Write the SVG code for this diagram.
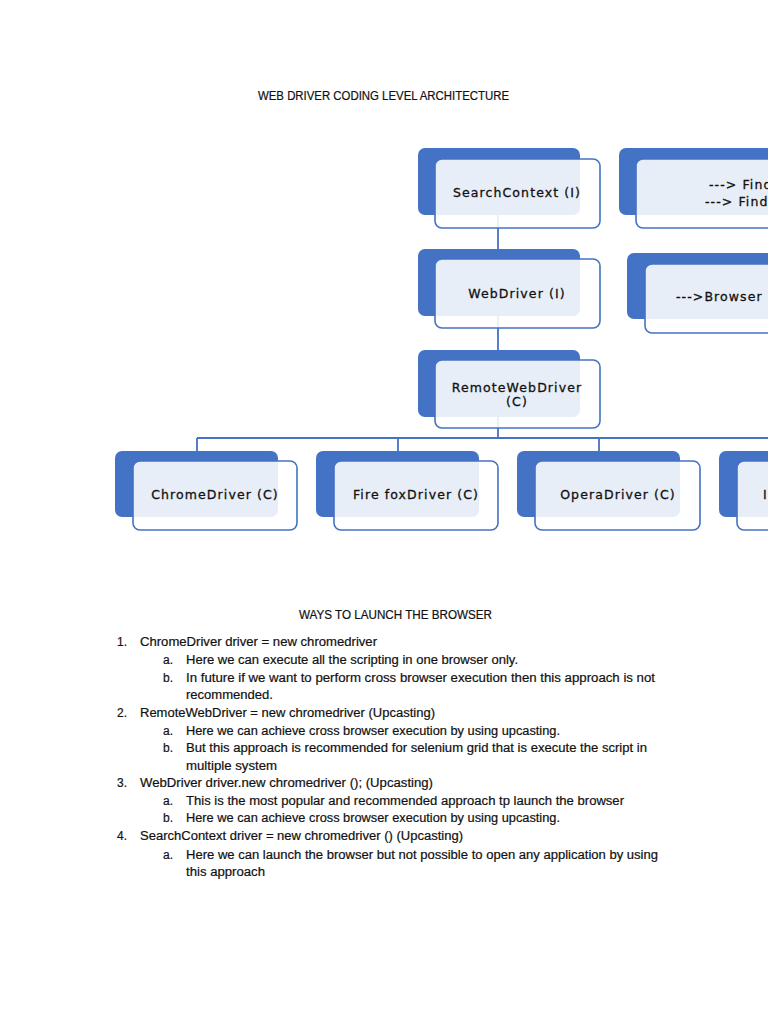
<svg xmlns="http://www.w3.org/2000/svg" width="768" height="1024" viewBox="0 0 768 1024">
<style>
.bk{fill:#4472c4}
.fr{fill:#ffffff;fill-opacity:0.88;stroke:#4472c4;stroke-width:1.6}
.nt{font-family:"DejaVu Sans",Verdana,sans-serif;font-size:12.5px;letter-spacing:1.1px;fill:#111;stroke:#111;stroke-width:0.3;text-anchor:middle}
.ns{font-family:"DejaVu Sans",Verdana,sans-serif;font-size:12.5px;letter-spacing:1.1px;fill:#111;stroke:#111;stroke-width:0.3}
.tx{font-family:"Liberation Sans",Arial,sans-serif;font-size:12px;fill:#111;stroke:#111;stroke-width:0.2}
.cn{stroke:#4472c4;stroke-width:1.8;fill:none}
</style>
<rect width="768" height="1024" fill="#ffffff"/>
<text class="tx" x="258" y="100" textLength="251" lengthAdjust="spacingAndGlyphs">WEB DRIVER CODING LEVEL ARCHITECTURE</text>
<g id="connectors">
<line class="cn" x1="498" y1="215" x2="498" y2="250"/>
<line class="cn" x1="498" y1="316" x2="498" y2="350"/>
<line class="cn" x1="498" y1="417" x2="498" y2="438"/>
<line class="cn" x1="197" y1="438" x2="768" y2="438"/>
<line class="cn" x1="197" y1="438" x2="197" y2="452"/>
<line class="cn" x1="398" y1="438" x2="398" y2="452"/>
<line class="cn" x1="599" y1="438" x2="599" y2="452"/>
</g>
<g id="searchcontext">
<rect class="bk" x="418" y="148" width="162" height="67" rx="7"/>
<rect class="fr" x="435" y="159" width="165" height="69" rx="7"/>
<text class="nt" x="517" y="197">SearchContext (I)</text>
</g>
<g id="findnote">
<rect class="bk" x="619" y="148" width="170" height="67" rx="7"/>
<rect class="fr" x="636" y="159" width="170" height="69" rx="7"/>
<text class="ns" x="709" y="189">---&gt; Find</text>
<text class="ns" x="705" y="206">---&gt; Find</text>
</g>
<g id="webdriver">
<rect class="bk" x="418" y="249" width="162" height="67" rx="7"/>
<rect class="fr" x="435" y="259" width="165" height="69" rx="7"/>
<text class="nt" x="517" y="298">WebDriver (I)</text>
</g>
<g id="browsernote">
<rect class="bk" x="627" y="253" width="170" height="66" rx="7"/>
<rect class="fr" x="645" y="264" width="170" height="69" rx="7"/>
<text class="ns" x="676" y="301">---&gt;Browser</text>
</g>
<g id="remotewebdriver">
<rect class="bk" x="418" y="350" width="162" height="67" rx="7"/>
<rect class="fr" x="435" y="360" width="165" height="68" rx="7"/>
<text class="nt" x="517" y="392">RemoteWebDriver</text>
<text class="nt" x="517" y="406">(C)</text>
</g>
<g id="chromedriver">
<rect class="bk" x="115" y="451" width="163" height="66" rx="7"/>
<rect class="fr" x="133" y="461" width="164" height="69" rx="7"/>
<text class="nt" x="215" y="499">ChromeDriver (C)</text>
</g>
<g id="firefoxdriver">
<rect class="bk" x="316" y="451" width="163" height="66" rx="7"/>
<rect class="fr" x="334" y="461" width="164" height="69" rx="7"/>
<text class="nt" x="416" y="499">Fire foxDriver (C)</text>
</g>
<g id="operadriver">
<rect class="bk" x="517" y="451" width="163" height="66" rx="7"/>
<rect class="fr" x="535" y="461" width="165" height="69" rx="7"/>
<text class="nt" x="618" y="499">OperaDriver (C)</text>
</g>
<g id="fourthdriver">
<rect class="bk" x="719" y="451" width="163" height="66" rx="7"/>
<rect class="fr" x="737" y="461" width="165" height="69" rx="7"/>
<text class="ns" x="763" y="499">I</text>
</g>
<g id="list">
<text class="tx" x="299" y="619" textLength="193" lengthAdjust="spacingAndGlyphs">WAYS TO LAUNCH THE BROWSER</text>
<text class="tx" x="117" y="646">1.</text>
<text class="tx" x="140" y="646" textLength="237" lengthAdjust="spacingAndGlyphs">ChromeDriver driver = new chromedriver</text>
<text class="tx" x="163" y="664">a.</text>
<text class="tx" x="186" y="664" textLength="332" lengthAdjust="spacingAndGlyphs">Here we can execute all the scripting in one browser only.</text>
<text class="tx" x="163" y="682">b.</text>
<text class="tx" x="186" y="682" textLength="469" lengthAdjust="spacingAndGlyphs">In future if we want to perform cross browser execution then this approach is not</text>
<text class="tx" x="186" y="699" textLength="87" lengthAdjust="spacingAndGlyphs">recommended.</text>
<text class="tx" x="117" y="717">2.</text>
<text class="tx" x="140" y="717" textLength="295" lengthAdjust="spacingAndGlyphs">RemoteWebDriver = new chromedriver (Upcasting)</text>
<text class="tx" x="163" y="735">a.</text>
<text class="tx" x="186" y="735" textLength="374" lengthAdjust="spacingAndGlyphs">Here we can achieve cross browser execution by using upcasting.</text>
<text class="tx" x="163" y="752">b.</text>
<text class="tx" x="186" y="752" textLength="461" lengthAdjust="spacingAndGlyphs">But this approach is recommended for selenium grid that is execute the script in</text>
<text class="tx" x="186" y="770" textLength="91" lengthAdjust="spacingAndGlyphs">multiple system</text>
<text class="tx" x="117" y="787">3.</text>
<text class="tx" x="140" y="787" textLength="293" lengthAdjust="spacingAndGlyphs">WebDriver driver.new chromedriver (); (Upcasting)</text>
<text class="tx" x="163" y="805">a.</text>
<text class="tx" x="186" y="805" textLength="438" lengthAdjust="spacingAndGlyphs">This is the most popular and recommended approach tp launch the browser</text>
<text class="tx" x="163" y="822">b.</text>
<text class="tx" x="186" y="822" textLength="374" lengthAdjust="spacingAndGlyphs">Here we can achieve cross browser execution by using upcasting.</text>
<text class="tx" x="117" y="840">4.</text>
<text class="tx" x="140" y="840" textLength="323" lengthAdjust="spacingAndGlyphs">SearchContext driver = new chromedriver () (Upcasting)</text>
<text class="tx" x="163" y="859">a.</text>
<text class="tx" x="186" y="859" textLength="472" lengthAdjust="spacingAndGlyphs">Here we can launch the browser but not possible to open any application by using</text>
<text class="tx" x="186" y="876" textLength="79" lengthAdjust="spacingAndGlyphs">this approach</text>
</g>
</svg>
